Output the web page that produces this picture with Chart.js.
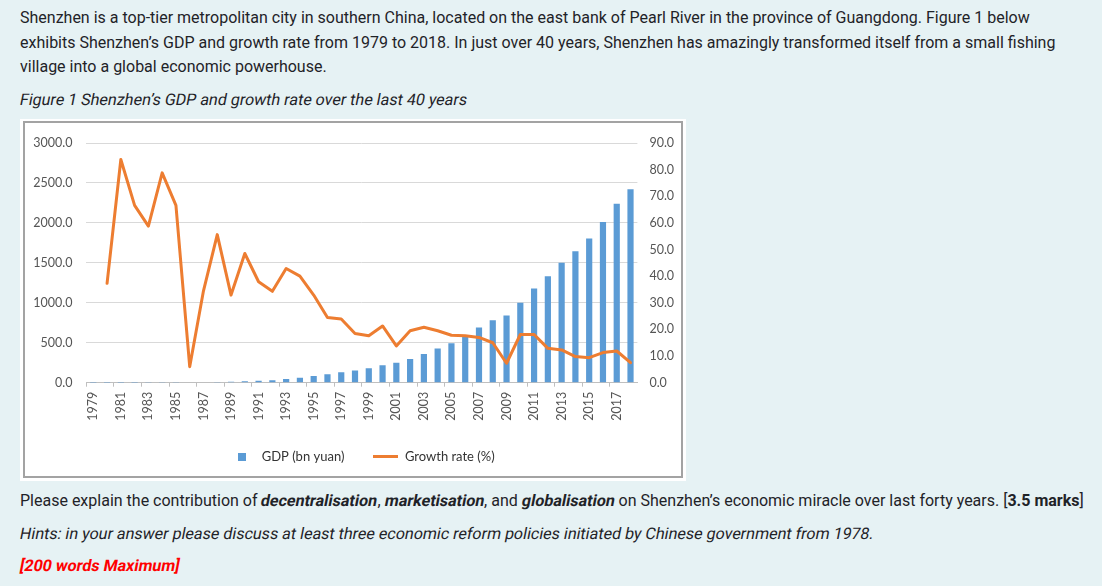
<!DOCTYPE html>
<html>
<head>
<meta charset="utf-8">
<script src="https://cdn.jsdelivr.net/npm/chart.js@4.4.1/dist/chart.umd.min.js"></script>
<style>
  body { margin: 0; background: #e6f2f4; }
  .page { padding: 6px 20px 0 20px; font-family: Roboto, sans-serif; font-size: 16px; line-height: 24.5px; color: #1f2328; }
  .page p { margin: 0 0 8px 0; white-space: nowrap; }
  .page p.cap { margin-bottom: 7px; }
  .sl { display: inline-block; transform: skewX(-11deg); }
  .fig { position: relative; width: 666px; height: 362px; background: #fff; margin-bottom: 8px; }
  .fig canvas { position: absolute; left: 0; top: 0; }
  .frame { position: absolute; left: 3px; top: 2px; right: 3px; bottom: 3px; border: 2px solid #a3a3a3; pointer-events: none; }
  .red { color: #ff0000; }
</style>
</head>
<body>
<div class="page">
  <p>Shenzhen is a top-tier metropolitan city in southern China, located on the east bank of Pearl River in the province of Guangdong. Figure 1 below<br>exhibits Shenzhen’s GDP and growth rate from 1979 to 2018. In just over 40 years, Shenzhen has amazingly transformed itself from a small fishing<br>village into a global economic powerhouse.</p>
  <p class="cap"><span class="sl">Figure 1 Shenzhen’s GDP and growth rate over the last 40 years</span></p>
  <div class="fig">
    <canvas id="chart" width="666" height="362"></canvas>
    <div class="frame"></div>
  </div>
  <p>Please explain the contribution of <b class="sl">decentralisation</b>, <b class="sl">marketisation</b>, and <b class="sl">globalisation</b> on Shenzhen’s economic miracle over last forty years. [<b>3.5 marks</b>]</p>
  <p><span class="sl">Hints: in your answer please discuss at least three economic reform policies initiated by Chinese government from 1978.</span></p>
  <p class="red"><b class="sl">[200 words Maximum]</b></p>
</div>
<script>
    "use strict";

    // years on the category axis
    var years = [];
    for (var y = 1979; y <= 2018; y++) years.push(String(y));

    // GDP, bn yuan (left axis)
    var gdp = [0.2, 0.3, 0.5, 0.8, 1.3, 2.3, 3.9, 4.2, 5.6, 8.7,
               11.6, 17.2, 23.7, 31.7, 45.3, 63.5, 84.2, 104.8, 129.7, 153.5,
               180.4, 219.2, 248.2, 296.9, 358.6, 428.2, 495.1, 581.4, 690.0, 783.0,
               842.0, 1000.0, 1180.0, 1332.0, 1500.0, 1646.0, 1805.0, 2010.0, 2240.0, 2420.0];

    // growth rate, % (right axis) - no value for 1979
    var growth = [null, 37.3, 83.8, 66.6, 58.8, 78.8, 66.6, 6.0, 34.5, 55.6,
                  32.9, 48.5, 37.9, 34.3, 42.9, 40.0, 32.9, 24.5, 23.9, 18.5,
                  17.6, 21.3, 13.8, 19.5, 20.8, 19.5, 17.8, 17.6, 17.0, 15.0,
                  7.3, 18.1, 18.1, 12.9, 12.3, 9.8, 9.4, 11.3, 11.9, 7.5];

    var gdpTicks = [0, 500, 1000, 1500, 2000, 2500, 3000];
    var rateTicks = [0, 10, 20, 30, 40, 50, 60, 70, 80, 90];

    var BLUE = '#5b9bd5';
    var ORANGE = '#ed7d31';
    var tickFont = { family: 'Lato, sans-serif', size: 12.5 };

    // small canvases used as legend markers
    function marker(w, h, color) {
        var c = document.createElement('canvas');
        c.width = w;
        c.height = h;
        var g = c.getContext('2d');
        g.fillStyle = color;
        g.fillRect(0, 0, w, h);
        return c;
    }
    var markers = [marker(25, 3, ORANGE), marker(8, 8, BLUE)];

    var ctx = document.getElementById('chart').getContext('2d');
    var chart = new Chart(ctx, {
        type: 'bar',
        data: {
            labels: years,
            datasets: [{
                type: 'line',
                label: 'Growth rate (%)',
                data: growth,
                yAxisID: 'y1',
                borderColor: ORANGE,
                backgroundColor: ORANGE,
                borderWidth: 3,
                pointRadius: 0,
                tension: 0,
                borderJoinStyle: 'round',
                borderCapStyle: 'round'
            }, {
                label: 'GDP (bn yuan)',
                data: gdp,
                yAxisID: 'y',
                backgroundColor: BLUE,
                categoryPercentage: 1,
                barPercentage: 0.45
            }]
        },
        options: {
            responsive: false,
            animation: false,
            layout: { padding: { left: 0, right: 0, top: 24, bottom: 8 } },
            plugins: {
                tooltip: { enabled: false },
                legend: {
                    position: 'bottom',
                    fullSize: false,
                    reverse: true,
                    labels: {
                        usePointStyle: true,
                        pointStyleWidth: 26,
                        padding: 28,
                        color: '#333333',
                        font: { family: 'Lato, sans-serif', size: 13 },
                        generateLabels: function (chart) {
                            var items = Chart.defaults.plugins.legend.labels.generateLabels(chart);
                            items.forEach(function (it) { it.pointStyle = markers[it.datasetIndex]; });
                            return items;
                        }
                    }
                }
            },
            scales: {
                x: {
                    offset: true,
                    afterFit: function (s) { s.height = 39.3; },
                    grid: {
                        drawOnChartArea: false,
                        tickLength: 4,
                        color: function (c) { return c.index % 2 === 0 ? '#bfbfbf' : 'rgba(0,0,0,0)'; }
                    },
                    border: { display: true, color: '#bfbfbf' },
                    ticks: {
                        autoSkip: false,
                        minRotation: 90,
                        maxRotation: 90,
                        padding: 5,
                        color: '#555555',
                        font: tickFont,
                        callback: function (v, i) { return i % 2 === 0 ? years[i] : ''; }
                    }
                },
                y: {
                    position: 'left',
                    min: gdpTicks[0],
                    max: gdpTicks[gdpTicks.length - 1],
                    afterBuildTicks: function (s) { s.ticks = gdpTicks.map(function (v) { return { value: v }; }); },
                    afterFit: function (s) { s.width = 66.4; },
                    grid: { color: '#d9d9d9', drawTicks: false },
                    border: { display: false },
                    ticks: {
                        padding: 14,
                        color: '#555555',
                        font: tickFont,
                        callback: function (v) { return Number(v).toFixed(1); }
                    }
                },
                y1: {
                    position: 'right',
                    min: rateTicks[0],
                    max: rateTicks[rateTicks.length - 1],
                    afterBuildTicks: function (s) { s.ticks = rateTicks.map(function (v) { return { value: v }; }); },
                    afterFit: function (s) { s.width = 48.6; },
                    grid: { drawOnChartArea: false, drawTicks: false },
                    border: { display: false },
                    ticks: {
                        padding: 12,
                        color: '#555555',
                        font: tickFont,
                        callback: function (v) { return Number(v).toFixed(1); }
                    }
                }
            }
        }
    });
</script>
</body>
</html>
